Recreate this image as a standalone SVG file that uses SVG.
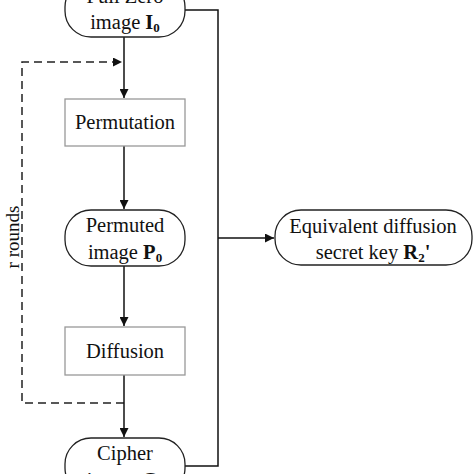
<svg xmlns="http://www.w3.org/2000/svg" width="474" height="474" viewBox="0 0 474 474">
<defs>
<style>
text{font-family:"Liberation Serif","Times New Roman",serif;font-size:20.5px;fill:#111;text-anchor:middle}
.b{font-weight:bold}
.s{font-size:13px;font-weight:bold}
.term{fill:#fff;stroke:#222;stroke-width:1.3}
.proc{fill:#fff;stroke:#999;stroke-width:1.3}
.ln{fill:none;stroke:#111;stroke-width:1.5}
.dash{fill:none;stroke:#222;stroke-width:1.5;stroke-dasharray:8,5}
</style>
<marker id="ah" viewBox="0 0 10 10" refX="10" refY="5" markerWidth="9" markerHeight="9" markerUnits="userSpaceOnUse" orient="auto">
<path d="M0,0 L10,5 L0,10 z" fill="#111"/>
</marker>
</defs>
<rect width="474" height="474" fill="#fff"/>
<g id="connectors">
<path class="ln" d="M124,37 V98" marker-end="url(#ah)"/>
<path class="dash" d="M124,403 H22 V62 H122" marker-end="url(#ah)"/>
<path class="ln" d="M124,146 V209" marker-end="url(#ah)"/>
<path class="ln" d="M124,266 V326" marker-end="url(#ah)"/>
<path class="ln" d="M124,375 V437" marker-end="url(#ah)"/>
<path class="ln" d="M185,10 H218 V466 H185"/>
<path class="ln" d="M218,238 H274" marker-end="url(#ah)"/>
</g>
<g id="n-input">
<rect class="term" x="65" y="-19" width="120" height="56" rx="26"/>
<text x="125" y="3">Full Zero</text>
<text x="125" y="29">image <tspan class="b">I</tspan><tspan class="s" dy="3">0</tspan></text>
</g>
<g id="n-perm">
<rect class="proc" x="65" y="99" width="120" height="47"/>
<text x="125" y="129">Permutation</text>
</g>
<g id="n-permuted">
<rect class="term" x="65" y="210" width="120" height="56" rx="26"/>
<text x="125" y="232">Permuted</text>
<text x="125" y="259">image <tspan class="b">P</tspan><tspan class="s" dy="3">0</tspan></text>
</g>
<g id="n-diff">
<rect class="proc" x="65" y="327" width="120" height="48"/>
<text x="125" y="358">Diffusion</text>
</g>
<g id="n-cipher">
<rect class="term" x="65" y="438" width="120" height="56" rx="26"/>
<text x="125" y="460">Cipher</text>
<text x="125" y="487">image <tspan class="b">C</tspan><tspan class="s" dy="3">0</tspan></text>
</g>
<g id="n-key">
<rect class="term" x="275" y="210" width="197" height="55" rx="26"/>
<text x="373" y="233">Equivalent diffusion</text>
<text x="373" y="259">secret key <tspan class="b">R</tspan><tspan class="s" dy="3">2</tspan><tspan class="b" dy="-3">'</tspan></text>
</g>
<g id="label-rounds">
<text x="0" y="0" transform="translate(19,237) rotate(-90)" style="font-size:19px">r rounds</text>
</g>
</svg>
